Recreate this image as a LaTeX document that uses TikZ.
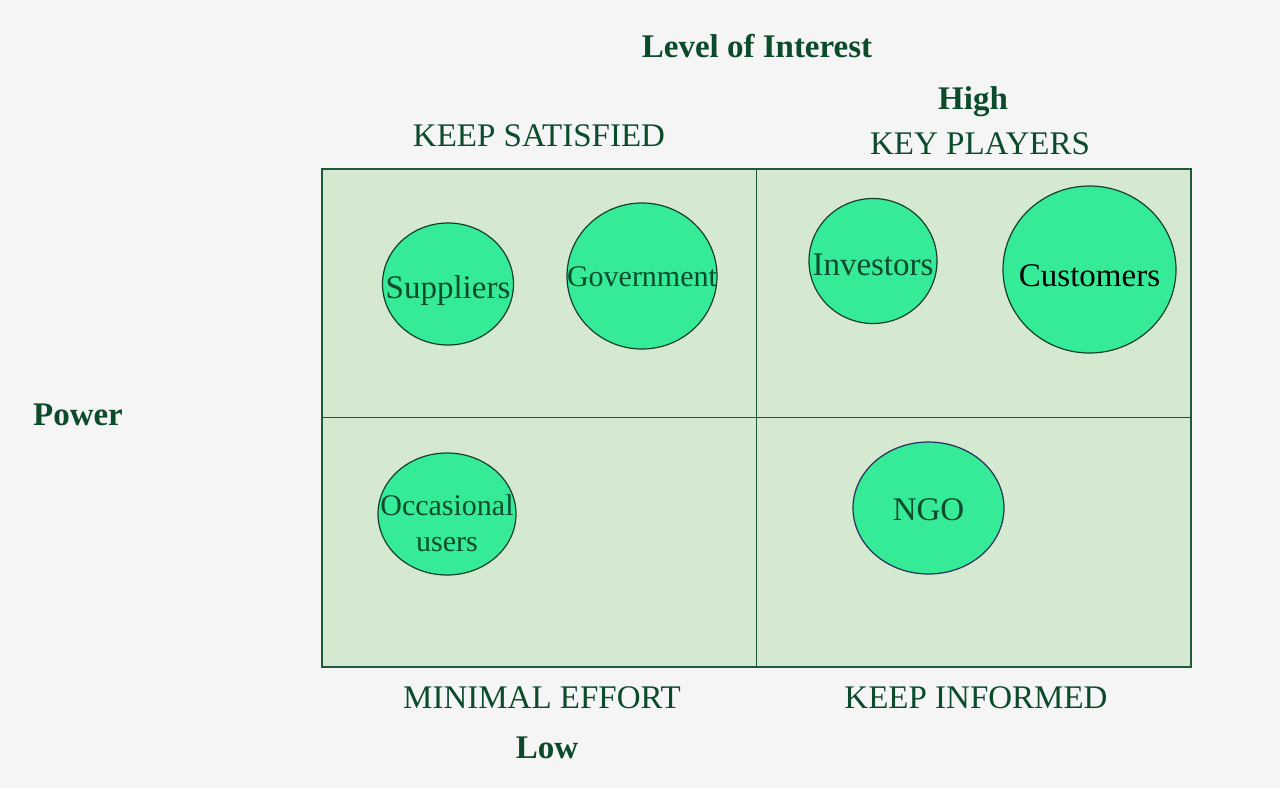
\documentclass[tikz,border=0pt]{standalone}
\usepackage{fontspec}
\setmainfont{Liberation Serif}
\usetikzlibrary{shapes.geometric}
\definecolor{bgc}{HTML}{F5F5F5}
\definecolor{quadc}{HTML}{D4E9CF}
\definecolor{edgec}{HTML}{1E5A3A}
\definecolor{blobedge}{HTML}{163F2A}
\definecolor{txtc}{HTML}{0B4A2B}
\definecolor{blobc}{HTML}{35EB98}
\definecolor{navyc}{HTML}{2A2F5E}
\tikzset{
  lbl/.style={text=txtc, font=\fontsize{33}{36}\selectfont, inner sep=0pt},
  blbl/.style={lbl, font=\fontsize{33}{36}\selectfont\bfseries},
  blob/.style={ellipse, draw=blobedge, line width=1.2pt, fill=blobc, inner sep=0pt},
  blobtxt/.style={text=txtc, font=\fontsize{33}{36}\selectfont, inner sep=0pt, align=center},
}
\begin{document}
\begin{tikzpicture}[x=1pt,y=-1pt]
\fill[bgc] (0,0) rectangle (1280,788);
\useasboundingbox (0,0) rectangle (1280,788);
% grid
\fill[quadc] (322,169) rectangle (1191,667);
\draw[edgec, line width=1.3pt] (322,169) rectangle (1191,667);
\coordinate (vt) at (756,169);
\coordinate (vb) at (756,667);
\coordinate (hl) at (322,417);
\coordinate (hr) at (1191,417);
\draw[edgec, line width=1pt] (vt) -- (vb);
\draw[edgec, line width=1pt] (hl) -- (hr);
% labels
\node[blbl] (loi) at (757,46) {Level of Interest};
\node[blbl] (high) at (973,102) {High};
\node[lbl] (kp) at (980,144) {KEY PLAYERS};
\node[lbl] (ks) at (539,136) {KEEP SATISFIED};
\node[blbl] (pow) at (78,415) {Power};
\node[lbl] (me) at (542,698) {MINIMAL EFFORT};
\node[blbl] (low) at (547,748) {Low};
\node[lbl] (ki) at (976,698) {KEEP INFORMED};
% stakeholders
\node[blob, minimum width=131pt, minimum height=122pt] (sup) at (448,284) {};
\node[blobtxt] (supt) at (448,291) {Suppliers};
\node[blob, minimum width=150pt, minimum height=146pt] (gov) at (642,276) {};
\node[blobtxt, font=\fontsize{30}{36}\selectfont] (govt) at (642,277) {Government};
\node[blob, minimum width=128pt, minimum height=125pt] (inv) at (873,261) {};
\node[blobtxt] (invt) at (873,265) {Investors};
\node[blob, minimum width=173pt, minimum height=167pt] (cus) at (1089.5,269.5) {};
\node[blobtxt, text=black] (cust) at (1089.5,276) {Customers};
\node[blob, minimum width=151pt, minimum height=132pt, draw=navyc] (ngo) at (928.5,508) {};
\node[blobtxt] (ngot) at (928.5,510) {NGO};
\node[blob, minimum width=138pt, minimum height=122pt] (occ) at (447,514) {};
\node[blobtxt, font=\fontsize{30}{36}\selectfont] (occt) at (447,523) {Occasional\\users};
\end{tikzpicture}
\end{document}
